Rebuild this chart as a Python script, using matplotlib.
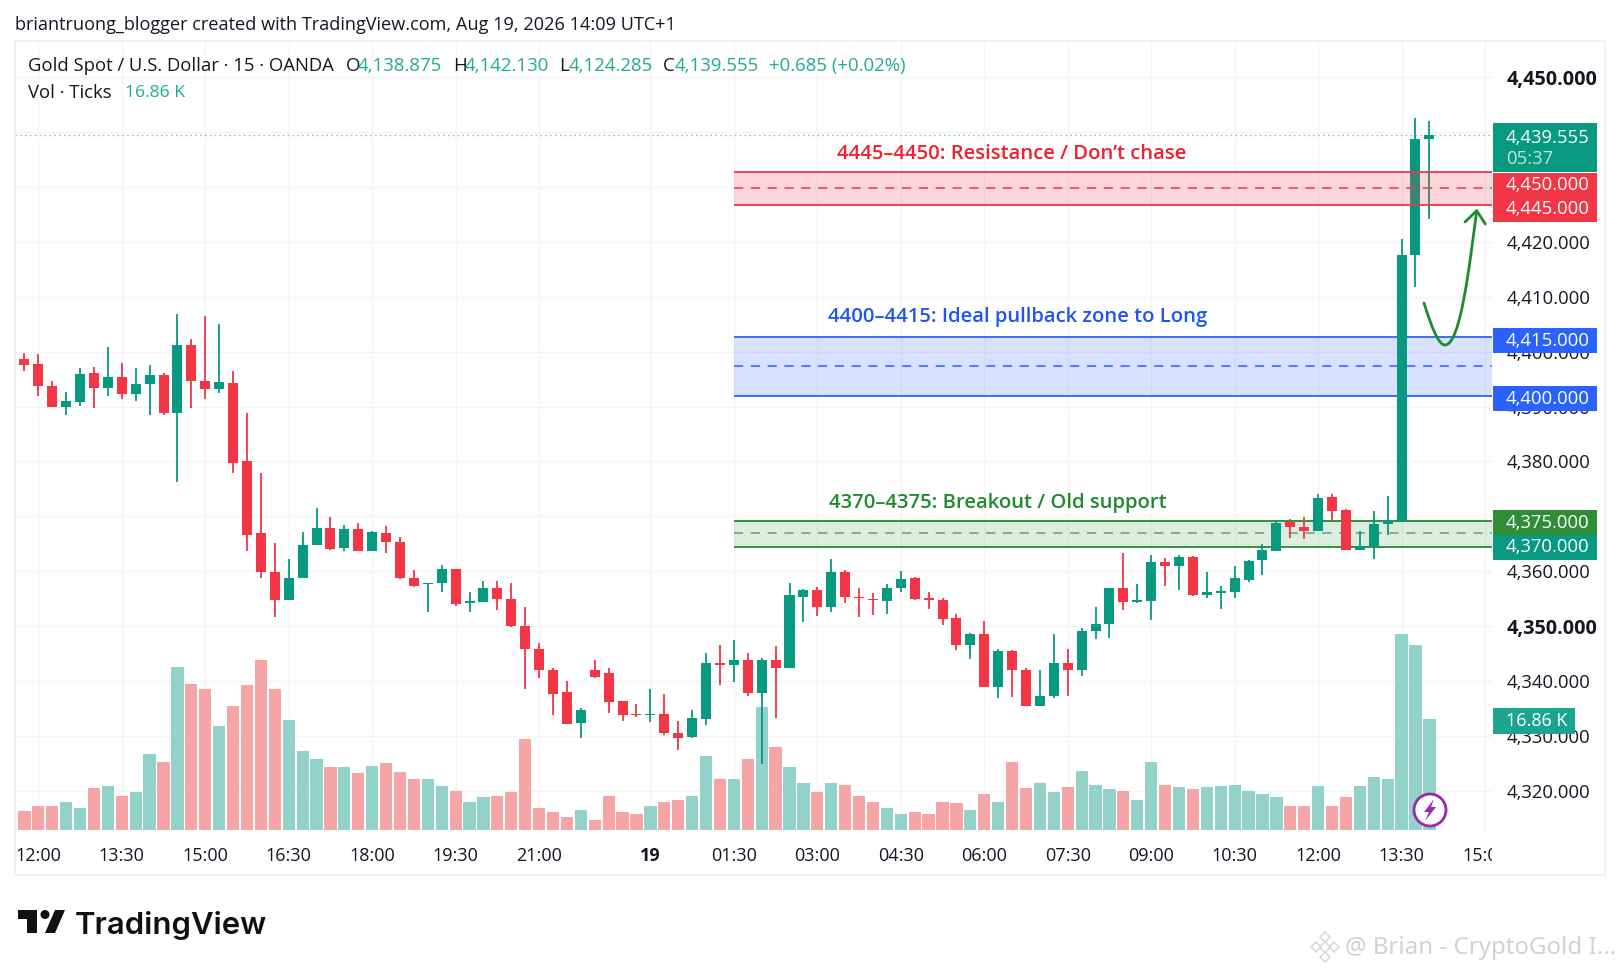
#!/usr/bin/env python3
"""Gold Spot / USD 15m chart snapshot with zones and volume."""

import numpy as np
import matplotlib
matplotlib.use('Agg')
import matplotlib.pyplot as plt
from matplotlib.patches import Rectangle, Polygon, Circle, PathPatch
from matplotlib.path import Path
from matplotlib.transforms import Bbox, TransformedBbox

plt.rcParams['font.family'] = ['Open Sans', 'DejaVu Sans']

W, H = 1620, 971

# OHLC (price scale of the right axis)
opens = [4398.7, 4397.7, 4393.7, 4390.0, 4390.8, 4396.1, 4393.3, 4395.3, 4392.3, 4394.2,
         4395.8, 4388.9, 4401.3, 4394.6, 4393.2, 4394.3, 4380.0, 4366.9, 4359.9, 4354.8,
         4358.8, 4364.8, 4367.9, 4364.2, 4367.7, 4363.7, 4367.0, 4365.4, 4358.7, 4357.7,
         4357.9, 4360.5, 4354.2, 4354.4, 4356.9, 4354.9, 4350.0, 4345.8, 4342.1, 4338.0,
         4332.3, 4342.0, 4341.4, 4336.4, 4334.0, 4333.8, 4334.0, 4330.6, 4329.8, 4333.0,
         4343.2, 4343.0, 4343.8, 4337.9, 4343.9, 4342.3, 4355.4, 4356.6, 4353.5, 4359.9,
         4355.3, 4354.9, 4354.5, 4357.0, 4358.7, 4355.2, 4354.8, 4351.4, 4346.5, 4348.5,
         4339.0, 4345.4, 4342.1, 4335.5, 4337.2, 4343.2, 4342.0, 4349.1, 4350.4, 4356.9,
         4354.4, 4354.6, 4361.6, 4361.0, 4362.6, 4355.6, 4356.0, 4356.2, 4358.4, 4362.1,
         4363.7, 4369.0, 4368.0, 4367.3, 4373.6, 4371.1, 4363.8, 4364.6, 4368.6, 4369.2,
         4417.6, 4438.7]
highs = [4399.8, 4399.6, 4394.7, 4392.6, 4397.0, 4397.2, 4400.9, 4397.9, 4397.0, 4397.5,
         4396.2, 4406.9, 4402.4, 4406.5, 4405.1, 4396.5, 4388.9, 4377.9, 4365.1, 4362.3,
         4367.1, 4371.6, 4369.8, 4368.5, 4368.8, 4367.4, 4368.3, 4366.2, 4360.3, 4357.9,
         4361.1, 4360.5, 4356.2, 4358.2, 4358.3, 4357.9, 4353.4, 4347.0, 4342.3, 4340.0,
         4335.0, 4343.8, 4342.4, 4336.4, 4335.8, 4338.5, 4337.6, 4332.8, 4334.7, 4345.1,
         4346.5, 4347.5, 4345.2, 4344.2, 4346.4, 4357.9, 4356.8, 4357.1, 4362.2, 4360.2,
         4356.9, 4356.1, 4357.6, 4360.1, 4359.0, 4356.2, 4355.2, 4352.2, 4348.8, 4350.9,
         4345.8, 4345.7, 4342.3, 4342.0, 4348.5, 4345.8, 4349.6, 4353.4, 4356.9, 4363.3,
         4357.6, 4363.0, 4362.4, 4363.0, 4362.8, 4359.8, 4357.4, 4361.0, 4362.1, 4364.9,
         4369.0, 4369.5, 4369.9, 4374.1, 4374.1, 4371.3, 4367.3, 4370.9, 4373.7, 4420.6,
         4442.6, 4442.0]
lows = [4396.5, 4391.9, 4389.9, 4388.4, 4390.1, 4389.7, 4391.9, 4391.4, 4391.0, 4388.4,
        4388.5, 4376.2, 4389.7, 4391.4, 4392.5, 4377.9, 4363.7, 4358.7, 4351.7, 4354.8,
        4358.8, 4364.8, 4363.8, 4363.6, 4363.6, 4363.7, 4363.3, 4358.5, 4357.1, 4352.6,
        4356.2, 4353.7, 4352.6, 4354.4, 4352.9, 4349.8, 4338.5, 4340.6, 4333.8, 4332.1,
        4329.6, 4340.5, 4334.1, 4332.7, 4333.4, 4332.6, 4330.2, 4327.5, 4329.6, 4332.0,
        4339.2, 4339.9, 4337.3, 4324.9, 4333.3, 4342.3, 4350.8, 4351.9, 4352.6, 4354.2,
        4351.6, 4352.1, 4352.2, 4356.2, 4354.7, 4353.2, 4350.3, 4345.7, 4344.0, 4339.0,
        4336.9, 4337.1, 4335.5, 4335.5, 4337.0, 4337.3, 4340.9, 4347.6, 4347.8, 4352.9,
        4354.3, 4351.2, 4357.3, 4356.6, 4355.5, 4355.1, 4353.2, 4355.1, 4358.1, 4359.4,
        4363.7, 4366.0, 4365.8, 4367.3, 4369.3, 4363.8, 4363.8, 4362.2, 4366.6, 4369.2,
        4411.7, 4424.2]
closes = [4397.5, 4393.7, 4390.0, 4391.0, 4396.0, 4393.3, 4395.3, 4392.3, 4394.2, 4395.8,
          4388.9, 4401.3, 4394.7, 4393.2, 4394.4, 4379.7, 4366.6, 4359.9, 4354.8, 4358.8,
          4364.8, 4367.9, 4364.1, 4367.7, 4363.7, 4367.1, 4365.3, 4358.7, 4357.4, 4357.9,
          4360.5, 4354.1, 4354.5, 4356.9, 4354.9, 4350.0, 4345.8, 4342.0, 4337.6, 4332.2,
          4334.8, 4340.8, 4336.2, 4333.8, 4333.8, 4334.0, 4330.5, 4329.7, 4333.2, 4343.2,
          4343.0, 4343.8, 4337.9, 4343.9, 4342.3, 4355.6, 4356.6, 4353.5, 4359.9, 4355.4,
          4355.1, 4354.7, 4357.0, 4358.6, 4354.9, 4354.7, 4351.3, 4346.5, 4348.5, 4339.0,
          4345.4, 4342.1, 4335.5, 4337.3, 4343.2, 4342.0, 4349.2, 4350.4, 4356.9, 4354.4,
          4354.8, 4361.6, 4361.0, 4362.6, 4355.7, 4356.2, 4356.4, 4358.7, 4361.9, 4363.8,
          4368.8, 4368.1, 4367.3, 4373.4, 4370.9, 4363.8, 4364.6, 4368.6, 4369.4, 4417.7,
          4438.8, 4439.5]
# volume in thousands of ticks
volumes = [2.9, 3.7, 3.7, 4.2, 3.4, 6.4, 6.7, 5.2, 5.7, 11.5,
           10.4, 24.8, 22.2, 21.4, 15.8, 18.8, 22.0, 25.9, 21.4, 16.7,
           12.0, 10.8, 9.6, 9.6, 8.7, 9.8, 10.2, 8.8, 7.7, 7.8,
           6.7, 6.0, 4.3, 5.0, 5.1, 5.8, 13.8, 3.3, 2.8, 2.0,
           3.1, 1.5, 5.1, 2.8, 2.5, 3.7, 4.3, 4.6, 5.1, 11.2,
           7.7, 7.8, 10.8, 18.7, 12.6, 9.6, 7.2, 5.8, 7.2, 6.8,
           5.1, 4.2, 3.3, 2.5, 2.7, 2.4, 4.2, 4.1, 3.1, 5.5,
           4.3, 10.4, 6.4, 7.2, 5.7, 6.6, 9.0, 6.8, 6.3, 5.9,
           4.6, 10.4, 6.8, 6.6, 6.3, 6.6, 6.7, 6.9, 6.0, 5.5,
           5.0, 3.7, 3.7, 6.7, 3.7, 5.0, 6.7, 8.0, 7.7, 29.8,
           28.1, 16.86]

time_ticks = [1, 7, 13, 19, 25, 31, 37, 45, 51, 57, 63, 69, 75, 81, 87, 93, 99, 105]
time_labels = ['12:00', '13:30', '15:00', '16:30', '18:00', '19:30', '21:00', '19', '01:30',
               '03:00', '04:30', '06:00', '07:30', '09:00', '10:30', '12:00', '13:30', '15:00']
price_ticks = [4320, 4330, 4340, 4350, 4360, 4370, 4380, 4390, 4400, 4410, 4420, 4430, 4440, 4450]

# zones: low, mid, high on the drawn scale
zone_red = (4426.75, 4429.8, 4432.8)
zone_blue = (4391.85, 4397.4, 4402.65)
zone_green = (4364.45, 4366.9, 4369.15)
zone_start = 51
last_price = 4439.5

UP = '#089981'
DOWN = '#F23645'
VOL_UP = '#93D2C8'
VOL_DOWN = '#F6A5A6'
GRID = '#F4F4F5'
TEXT = '#131722'
RED = '#F0202E'
BLUE = '#1F55F0'
GREEN = '#1F8A2E'
TEAL_TEXT = '#22AB94'


def px_axes(fig, left, top, right, bottom):
    """Axes rect from pixel edges (y measured from the top)."""
    return fig.add_axes([left / W, 1 - bottom / H, (right - left) / W, (bottom - top) / H])


def draw_zone(ax, zone, color, fill_alpha, zorder, dash_alpha=1.0):
    low, mid, high = zone
    x1 = ax.get_xlim()[1]
    ax.fill_between([zone_start, x1], low, high, color=color, alpha=fill_alpha, lw=0, zorder=zorder)
    ax.hlines([low, high], zone_start, x1, color=color, lw=1.3, zorder=zorder)
    ax.hlines(mid, zone_start, x1, color=color, lw=1.1, linestyles=(0, (6, 5)), alpha=dash_alpha, zorder=zorder)


def draw_tag(over, x0, y0, x1, y1, color, label, size=13.3, tx=1506):
    over.add_patch(Rectangle((x0, y0), x1 - x0, y1 - y0, fc=color, ec='none', zorder=6))
    over.text(tx, (y0 + y1) / 2, label, color='white', fontsize=size, va='center', ha='left', zorder=7)


def main():
    fig = plt.figure(figsize=(W / 100, H / 100), dpi=100, facecolor='white')

    xs = np.arange(len(opens))
    opens_a, closes_a = np.array(opens), np.array(closes)
    is_up = closes_a >= opens_a

    xlim = (-0.676, 105.5)
    ylim = (4312.5, 4456.6)

    # 出来高は一番下のレイヤー
    ax_vol = px_axes(fig, 15, 41, 1492, 832)
    ax_vol.set_xlim(xlim)
    ax_vol.set_ylim(-0.3, 119.85)
    ax_vol.bar(xs, volumes, width=0.88, color=[VOL_UP if u else VOL_DOWN for u in is_up], lw=0, zorder=3)
    ax_vol.set_yticks([])
    ax_vol.set_xticks([])
    for s in ax_vol.spines.values():
        s.set_visible(False)

    ax = px_axes(fig, 15, 41, 1492, 832)
    ax.patch.set_alpha(0)
    ax.set_xlim(xlim)
    ax.set_ylim(ylim)
    for s in ax.spines.values():
        s.set_visible(False)

    # grid goes on the volume axes so that it stays behind the bars
    for t in time_ticks:
        ax_vol.axvline(t, color=GRID, lw=1, zorder=1)
    for p in price_ticks:
        frac = (p - ylim[0]) / (ylim[1] - ylim[0])
        ax_vol.axhline(ax_vol.get_ylim()[0] + frac * (ax_vol.get_ylim()[1] - ax_vol.get_ylim()[0]),
                       color=GRID, lw=1, zorder=1)

    draw_zone(ax, zone_blue, '#2962FF', 0.18, 1)
    draw_zone(ax, zone_green, GREEN, 0.15, 1, dash_alpha=0.7)

    colors = [UP if u else DOWN for u in is_up]
    ax.vlines(xs, lows, highs, color=colors, lw=1.3, zorder=3)
    body_low = np.minimum(opens_a, closes_a)
    body_h = np.abs(closes_a - opens_a)
    ax.bar(xs, body_h, bottom=body_low, width=0.72, color=colors, lw=0, zorder=4)

    draw_zone(ax, zone_red, DOWN, 0.2, 5)
    ax.axhline(last_price, color=UP, lw=1, ls=(0, (1, 2.5)), alpha=0.6, zorder=2)

    ax.yaxis.tick_right()
    ax.set_yticks(price_ticks)
    ax.set_yticklabels([f'{p:,.3f}' for p in price_ticks], fontsize=13.3, color=TEXT)
    ax.tick_params(axis='y', length=0, pad=10.4)
    ax.set_xticks(time_ticks)
    ax.set_xticklabels(time_labels, fontsize=13, color=TEXT)
    ax.tick_params(axis='x', length=0, pad=11)
    for lbl, p in zip(ax.get_yticklabels(), price_ticks):
        if p in (4350, 4450):
            lbl.set_fontweight('bold')
            lbl.set_fontsize(14.3)
    xlabels = ax.get_xticklabels()
    xlabels[time_labels.index('19')].set_fontweight('bold')
    # the last time label gets cut at the edge of the pane
    cut = TransformedBbox(Bbox([[0, 0], [1492 / W, 1]]), fig.transFigure)
    xlabels[-1].set_clip_box(cut)
    xlabels[-1].set_clip_on(True)

    # 以降はピクセル座標のオーバーレイ
    over = fig.add_axes([0, 0, 1, 1], zorder=10)
    over.set_xlim(0, W)
    over.set_ylim(H, 0)
    over.axis('off')
    over.patch.set_alpha(0)

    over.add_patch(Rectangle((15, 41), 1590, 834, fc='none', ec='#EFEFF0', lw=1.2, zorder=1))

    over.text(15, 25, 'briantruong_blogger created with TradingView.com, Aug 19, 2026 14:09 UTC+1',
              fontsize=13.1, color=TEXT, va='center')
    over.text(28, 66, 'Gold Spot / U.S. Dollar · 15 · OANDA', fontsize=13.3, color=TEXT, va='center')
    for x, s, c in [(346, 'O', TEXT), (358, '4,138.875', TEAL_TEXT), (453, 'H', TEXT), (465, '4,142.130', TEAL_TEXT),
                    (559, 'L', TEXT), (569, '4,124.285', TEAL_TEXT), (663, 'C', TEXT), (675, '4,139.555', TEAL_TEXT),
                    (769, '+0.685 (+0.02%)', TEAL_TEXT)]:
        over.text(x, 66, s, fontsize=13.4, color=c, va='center')
    over.text(28, 93, 'Vol · Ticks', fontsize=13.3, color=TEXT, va='center')
    over.text(125, 93, '16.86 K', fontsize=12.6, color=TEAL_TEXT, va='center')

    over.text(837, 154, '4445–4450: Resistance / Don’t chase', fontsize=14.6, color=RED,
              va='center', fontweight='semibold')
    over.text(828, 317, '4400–4415: Ideal pullback zone to Long', fontsize=14.6, color=BLUE,
              va='center', fontweight='semibold')
    over.text(829, 503, '4370–4375: Breakout / Old support', fontsize=14.6, color=GREEN,
              va='center', fontweight='semibold')

    # price tags
    over.add_patch(Rectangle((1493, 123), 104, 49, fc=UP, ec='none', zorder=6))
    over.text(1506, 138, '4,439.555', color='white', fontsize=13.3, va='center', zorder=7)
    over.text(1506, 159, '05:37', color='#BFE5DE', fontsize=13.3, va='center', zorder=7)
    draw_tag(over, 1493, 173, 1597, 197, DOWN, '4,450.000')
    draw_tag(over, 1493, 197, 1597, 222, DOWN, '4,445.000')
    draw_tag(over, 1493, 328, 1597, 353, '#2962FF', '4,415.000')
    draw_tag(over, 1493, 386, 1597, 411, '#2962FF', '4,400.000')
    draw_tag(over, 1493, 510, 1597, 535, '#2F8C37', '4,375.000')
    draw_tag(over, 1493, 535, 1597, 560, UP, '4,370.000')
    draw_tag(over, 1493, 708, 1575, 734, '#1BA58E', '16.86 K', size=13)

    # hand-drawn arrow
    curve = Path([(1424, 303), (1431, 325), (1438, 345), (1445, 345), (1461, 345), (1470, 260), (1476.7, 211)],
                 [Path.MOVETO] + [Path.CURVE4] * 6)
    over.add_patch(PathPatch(curve, fc='none', ec='#1F8A2E', lw=2, capstyle='round', zorder=8))
    over.plot([1465, 1476.7, 1485.3], [222, 210.7, 224], color='#1F8A2E', lw=2, solid_capstyle='round', zorder=8)

    # bolt badge
    over.add_patch(Circle((1430, 810), 16, fc='white', ec='#9C27B0', lw=2, zorder=8))
    over.add_patch(Polygon([(1434, 799), (1424, 812), (1429, 812), (1425, 821), (1436, 807), (1431, 807)],
                           closed=True, fc='#9C27B0', ec='none', zorder=9))

    # TradingView logo
    over.add_patch(Polygon([(18, 910), (37, 910), (37, 933), (27, 933), (27, 919), (18, 919)],
                           closed=True, fc='#111111', ec='none'))
    over.add_patch(Circle((45, 914.5), 4.5, fc='#111111', ec='none'))
    over.add_patch(Polygon([(55, 910), (65, 910), (55, 933), (45, 933)], closed=True, fc='#111111', ec='none'))
    over.text(75, 925, 'TradingView', fontsize=22.4, color='#111111', va='center',
              family=['Inter', 'DejaVu Sans'], fontweight='semibold')

    # watermark
    over.scatter([1325, 1316, 1334, 1325, 1325], [947, 947, 947, 937, 957], marker='D', s=[30, 26, 26, 26, 26],
                 fc='none', ec='#DADADA', lw=1.2)
    over.text(1345, 948, '@ Brian - CryptoGold I...', fontsize=17.3, color='#D2D2D2', va='center',
              family=['Noto Sans', 'DejaVu Sans'])

    fig.savefig('out.png', dpi=100, facecolor='white')
    plt.close(fig)


if __name__ == '__main__':
    main()
